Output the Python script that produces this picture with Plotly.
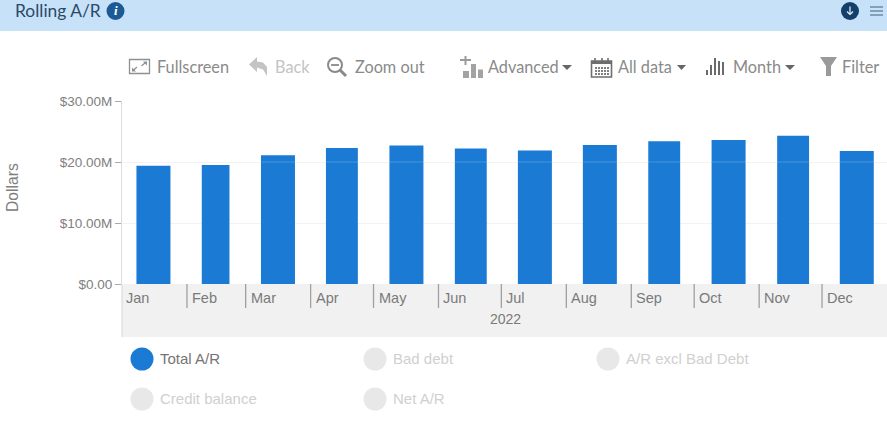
import plotly.graph_objects as go

# ---- data ----
months = ["Jan", "Feb", "Mar", "Apr", "May", "Jun", "Jul", "Aug", "Sep", "Oct", "Nov", "Dec"]
month_starts = ["2022-01-01", "2022-02-01", "2022-03-01", "2022-04-01", "2022-05-01", "2022-06-01",
                "2022-07-01", "2022-08-01", "2022-09-01", "2022-10-01", "2022-11-01", "2022-12-01"]
bar_dates = ["2022-01-16 00:00", "2022-02-14 16:00", "2022-03-16 10:00", "2022-04-15 22:00",
             "2022-05-16 17:00", "2022-06-16 10:00", "2022-07-17 00:00", "2022-08-17 00:00",
             "2022-09-16 17:00", "2022-10-17 10:00", "2022-11-17 05:00", "2022-12-17 14:00"]
month_days = [31, 28, 31, 30, 31, 30, 31, 31, 30, 31, 30, 31]
total_ar = [19.4, 19.5, 21.1, 22.3, 22.7, 22.2, 21.9, 22.8, 23.4, 23.6, 24.3, 21.8]
y_ticks = [0, 10, 20, 30]
y_labels = ["$0.00", "$10.00M", "$20.00M", "$30.00M"]
legend_on = ["Total A/R"]
legend_off = ["Bad debt", "A/R excl Bad Debt", "Credit balance", "Net A/R"]

DAY_MS = 86400000
L, T, R, B = 122, 101, 887, 284
W, H = R - L, B - T
PX_PER_DAY = W / 365
def px(x): return (x - L) / W
def py(y): return (B - y) / H

shapes, annos = [], []

def rect(x0, y0, x1, y1, fill, line=None, lw=0, layer="above"):
    shapes.append(dict(type="rect", xref="paper", yref="paper", x0=px(x0), x1=px(x1), y0=py(y0), y1=py(y1),
                       fillcolor=fill, line=dict(color=line or fill, width=lw), layer=layer))
def circle(cx, cy, r, fill, line=None, lw=0):
    shapes.append(dict(type="circle", xref="paper", yref="paper", x0=px(cx - r), x1=px(cx + r), y0=py(cy + r), y1=py(cy - r),
                       fillcolor=fill, line=dict(color=line or fill, width=lw)))
def seg(x0, y0, x1, y1, color, lw=1.5):
    shapes.append(dict(type="line", xref="paper", yref="paper", x0=px(x0), x1=px(x1), y0=py(y0), y1=py(y1),
                       line=dict(color=color, width=lw)))
def poly(points, fill):
    d = "M" + " L".join(f"{px(a):.5f},{py(b):.5f}" for a, b in points) + " Z"
    shapes.append(dict(type="path", xref="paper", yref="paper", path=d, fillcolor=fill, line=dict(width=0, color=fill)))
def text(x, y, s, size, color, family="Lato", anchor="left", **kw):
    annos.append(dict(xref="paper", yref="paper", x=px(x), y=py(y), text=s, showarrow=False, xanchor=anchor,
                      yanchor="middle", font=dict(family=family, size=size, color=color), borderpad=0, borderwidth=0, **kw))

SANS = "Liberation Sans"
# header band
rect(0, 0, 887, 31, "#c7e1f8")
text(15, 11, "Rolling A/R", 17.4, "#2b4a68")
circle(115.5, 11, 9, "#1c5a96")
text(115.5, 11, "<b><i>i</i></b>", 13, "#ffffff", family="Liberation Serif", anchor="center")
circle(850, 11, 9, "#12406a")
seg(850, 6.5, 850, 14.5, "#dfeaf5", 1.3)
seg(847, 11.5, 850, 14.5, "#dfeaf5", 1.3)
seg(853, 11.5, 850, 14.5, "#dfeaf5", 1.3)
for yy in (7, 11, 15):
    seg(870, yy, 883, yy, "#3f5f7f", 1)

# toolbar
TB = "#8a8a8a"
TBL = "#c4c4c4"
TB_Y = 66.7
TB_SIZE = 16.3
rect(129.5, 59.5, 149.5, 73.5, "rgba(0,0,0,0)", "#8f8f8f", 1.3)
seg(133, 70.5, 137, 67, "#8f8f8f", 1.2); seg(145.5, 62.5, 141.5, 66, "#8f8f8f", 1.2)
poly([(132, 71.5), (132, 67.5), (136, 71.5)], "#8f8f8f")
poly([(147, 61.5), (147, 65.5), (143, 61.5)], "#8f8f8f")
text(157, TB_Y, "Fullscreen", TB_SIZE, TB)

poly([(249, 64.5), (257, 57), (257, 61.5), (263, 62.5), (267, 67), (267, 76), (263, 69.5), (257, 67.5), (257, 72)], TBL)
text(275, TB_Y, "Back", TB_SIZE, TBL)

circle(335, 65, 7, "rgba(0,0,0,0)", "#8a8a8a", 2)
seg(331, 65, 339, 65, "#8a8a8a", 1.8)
seg(340, 70, 346, 76, "#8a8a8a", 3)
text(355, TB_Y, "Zoom out", TB_SIZE, TB)

seg(460, 60, 471, 60, "#9a9a9a", 2); seg(465.5, 56, 465.5, 65, "#9a9a9a", 2)
rect(463, 71, 469, 78, "#a3a3a3"); rect(471, 64, 476, 78, "#a3a3a3"); rect(478, 69.5, 483, 78, "#a3a3a3")
text(488, TB_Y, "Advanced", TB_SIZE, TB)
poly([(562, 65), (572, 65), (567, 70)], "#666666")

rect(591.5, 61, 611.5, 77, "rgba(0,0,0,0)", "#6e6e6e", 1.6)
rect(591, 61, 612, 64, "#6e6e6e")
for xx in (595, 602, 608):
    seg(xx, 58, xx, 63, "#6e6e6e", 1.6)
for yy in (67, 70, 73):
    for xx in (595, 598, 601, 604, 607):
        rect(xx, yy, xx + 2, yy + 2, "#7f7f7f")
text(618, TB_Y, "All data", TB_SIZE, TB)
poly([(677, 65), (686, 65), (681.5, 70)], "#666666")

for xx, top in zip((707, 711, 715, 719, 723), (70, 65, 58, 61, 62)):
    seg(xx, top, xx, 75, "#6b6b6b", 2)
text(733, TB_Y, "Month", TB_SIZE, TB)
poly([(785, 65), (795, 65), (790, 70)], "#666666")

poly([(820, 57), (837, 57), (831, 66), (831, 76), (826, 76), (826, 66)], "#9a9a9a")
text(842, TB_Y, "Filter", TB_SIZE, TB)

# axis title
annos.append(dict(xref="paper", yref="paper", x=px(12.5), y=py(187.5), text="Dollars", showarrow=False, textangle=-90,
                  xanchor="center", yanchor="middle", font=dict(family=SANS, size=15.7, color="#808080")))

# grey band under the axis, divider lines and labels
rect(122, 284, 887, 337, "#f1f1f1", layer="below")
seg(122, 284, 122, 337, "#dcdcdc", 1.2)
for i, (m, s) in enumerate(zip(months, month_starts)):
    annos.append(dict(xref="x", yref="paper", x=s, y=py(298), text=m, showarrow=False, xanchor="left", yanchor="middle",
                      xshift=1.5 if i == 0 else 3, font=dict(family=SANS, size=14.5, color="#7a7a7a")))
    if i:
        shapes.append(dict(type="line", xref="x", yref="paper", x0=s, x1=s, y0=py(284), y1=py(308),
                           line=dict(color="#a0a0a0", width=1.3)))
text(505, 319, "2022", 14, "#7a7a7a", family=SANS, anchor="center")

# grid line showing faintly over the bars
shapes.append(dict(type="line", xref="paper", yref="y", x0=0, x1=1, y0=y_ticks[2], y1=y_ticks[2],
                   line=dict(color="rgba(255,255,255,0.2)", width=1)))

# legend
spots = [(142, 359), (375, 359), (608, 359), (142, 399), (375, 399)]
names = legend_on + legend_off
for i, ((cx, cy), nm) in enumerate(zip(spots, names)):
    on = nm in legend_on
    circle(cx, cy, 11.5, "#1a7ad4" if on else "#e9e8e9")
    text(cx + 18, cy - 1, nm, 15, "#757575" if on else "#d0d0d0", family=SANS)

fig = go.Figure(go.Bar(
    x=bar_dates, y=total_ar, name="Total A/R",
    width=[(34 - 2.1 * (31 - d)) / PX_PER_DAY * DAY_MS for d in month_days],
    marker=dict(color="#1a7ad4", line=dict(width=0)),
))
fig.update_layout(
    width=887, height=432,
    margin=dict(l=L, r=887 - R, t=T, b=432 - B),
    paper_bgcolor="#ffffff", plot_bgcolor="#ffffff",
    showlegend=False, shapes=shapes, annotations=annos,
    xaxis=dict(type="date", range=["2022-01-01", "2023-01-01"], showgrid=False, showticklabels=False, ticks="",
               zeroline=False, showline=False),
    yaxis=dict(range=[0, 30], tickvals=y_ticks, ticktext=y_labels, ticks="outside", ticklen=6, tickcolor="#aaaaaa",
               tickfont=dict(family=SANS, size=13.5, color="#808080"), gridcolor="#f2f2f2", zeroline=False,
               showline=True, linecolor="#dcdcdc"),
)
fig.write_html("out.html", config=dict(displayModeBar=False),
               post_script="document.body.style.margin='0';document.body.style.overflow='hidden';")
